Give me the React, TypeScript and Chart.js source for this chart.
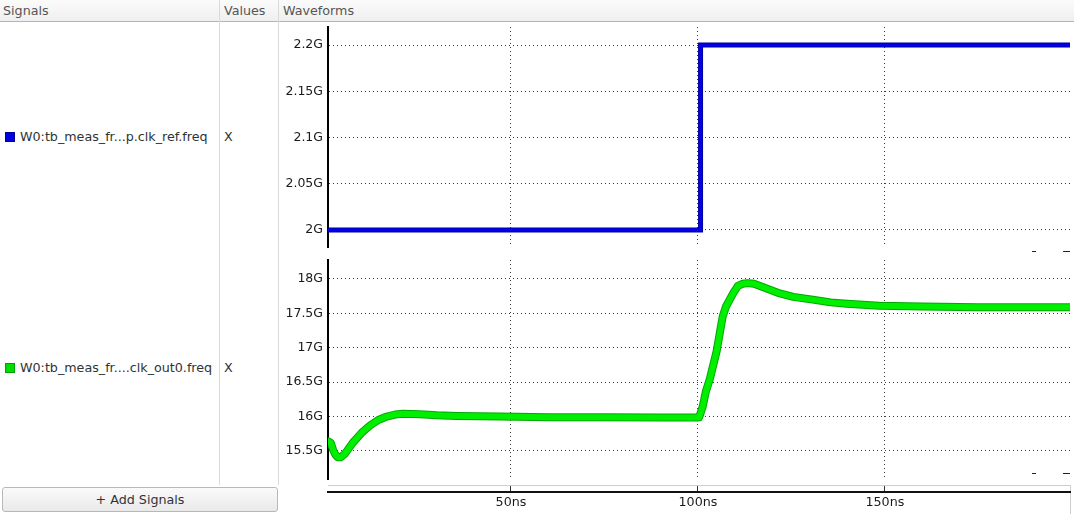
import React, { useEffect, useRef } from 'react';
import { Chart, registerables } from 'chart.js';

Chart.register(...registerables);

// ---- data (time in ns, frequency in GHz) ----
const refTimes = [1.1, 100.7, 100.7, 199.5];
const refValues = [2.0, 2.0, 2.2, 2.2];

const outTimes = [
  1.1, 1.8, 2.4, 3.0, 3.7, 4.5, 5.6, 7.7, 10, 12.3,
  14.5, 16.8, 19, 21.1, 25.6, 30.2, 35.5, 47, 60, 75,
  90, 100.3, 100.7, 101.3, 102.1, 103.2, 104.1, 105, 105.8, 106.6,
  107.5, 108.5, 109.5, 110.7, 112, 113.3, 115, 117.5, 121.9, 125.5,
  130.7, 135.5, 139.8, 148.5, 160, 175, 199.5,
];
const outValues = [
  15.64, 15.62, 15.52, 15.45, 15.41, 15.41, 15.46, 15.62, 15.76, 15.87,
  15.95, 16.0, 16.03, 16.04, 16.035, 16.02, 16.01, 16.0, 15.99, 15.99,
  15.985, 15.985, 16.05, 16.15, 16.36, 16.55, 16.75, 16.95, 17.2, 17.45,
  17.6, 17.7, 17.8, 17.9, 17.93, 17.94, 17.93, 17.88, 17.79, 17.74,
  17.7, 17.66, 17.64, 17.61, 17.6, 17.59, 17.59,
];

const timeTicks = [50, 100, 150];
const refTicks = [2.0, 2.05, 2.1, 2.15, 2.2];
const outTicks = [15.5, 16, 16.5, 17, 17.5, 18];

const X_MIN = 1.07;
const X_MAX = 199.5;
const REF_MIN = 1.9816;
const REF_MAX = 2.2195;
const OUT_MIN = 15.078;
const OUT_MAX = 18.276;

const FONT = "'DejaVu Sans', 'Liberation Sans', sans-serif";
const UI_SIZE = 12.7;

const toPoints = (xs: number[], ys: number[]) => xs.map((x, i) => ({ x, y: ys[i] }));

function paneOptions(yMin: number, yMax: number, yTicks: number[], padTop: number, padBottom: number): any {
  return {
    responsive: false,
    maintainAspectRatio: false,
    animation: false,
    events: [],
    layout: { padding: { top: padTop, bottom: padBottom, left: 0, right: 4 } },
    plugins: { legend: { display: false }, tooltip: { enabled: false } },
    scales: {
      x: {
        type: 'linear',
        min: X_MIN,
        max: X_MAX,
        z: 1,
        afterBuildTicks: (s: any) => { s.ticks = timeTicks.map((v) => ({ value: v })); },
        afterFit: (s: any) => { s.height = 0; s.paddingLeft = 0; s.paddingRight = 0; },
        ticks: { display: false },
        grid: { color: '#3a3a3a', lineWidth: 1, drawTicks: false },
        border: { display: false, dash: [1, 3] },
      },
      y: {
        type: 'linear',
        min: yMin,
        max: yMax,
        z: 1,
        afterBuildTicks: (s: any) => { s.ticks = yTicks.map((v) => ({ value: v })); },
        afterFit: (s: any) => { s.width = 49; s.paddingTop = 0; s.paddingBottom = 0; },
        ticks: {
          padding: 5,
          color: '#1a1a1a',
          font: { family: FONT, size: 12.5 },
          callback: (v: any) => `${v}G`,
        },
        grid: { color: '#3a3a3a', lineWidth: 1, drawTicks: false },
        border: { display: true, color: '#000', width: 2, dash: [1, 3] },
      },
    },
  };
}

export default function App() {
  const topRef = useRef<HTMLCanvasElement>(null);
  const botRef = useRef<HTMLCanvasElement>(null);
  const axisRef = useRef<HTMLCanvasElement>(null);

  useEffect(() => {
    Chart.defaults.font.family = FONT;
    const refPts = toPoints(refTimes, refValues);
    const outPts = toPoints(outTimes, outValues);

    // dataset 0 is painted last (on top)
    const top = new Chart(topRef.current!, {
      type: 'line',
      data: {
        datasets: [
          { data: refPts, borderColor: '#0000ee', borderWidth: 3, pointRadius: 0, tension: 0, fill: false },
          { data: refPts, borderColor: '#00009a', borderWidth: 5, pointRadius: 0, tension: 0, fill: false },
        ],
      },
      options: paneOptions(REF_MIN, REF_MAX, refTicks, 5, 5),
    });

    const bot = new Chart(botRef.current!, {
      type: 'line',
      data: {
        datasets: [
          { data: outPts, borderColor: '#00ee00', borderWidth: 6, pointRadius: 0, tension: 0, fill: false, borderJoinStyle: 'round', borderCapStyle: 'round' },
          { data: outPts, borderColor: '#00a800', borderWidth: 8, pointRadius: 0, tension: 0, fill: false, borderJoinStyle: 'round', borderCapStyle: 'round' },
        ],
      },
      options: paneOptions(OUT_MIN, OUT_MAX, outTicks, 8, 0),
    });

    const axis = new Chart(axisRef.current!, {
      type: 'line',
      data: { datasets: [] },
      options: {
        responsive: false,
        maintainAspectRatio: false,
        animation: false,
        events: [],
        layout: { padding: { top: 6, bottom: 0, left: 49, right: 4 } },
        plugins: { legend: { display: false }, tooltip: { enabled: false } },
        scales: {
          x: {
            type: 'linear',
            min: X_MIN,
            max: X_MAX,
            afterBuildTicks: (s: any) => { s.ticks = timeTicks.map((v) => ({ value: v })); },
            afterFit: (s: any) => { s.height = 22; s.paddingLeft = 0; s.paddingRight = 0; },
            ticks: {
              padding: 3,
              color: '#1a1a1a',
              font: { family: FONT, size: 12.7 },
              maxRotation: 0,
              callback: (v: any) => `${v}ns`,
            },
            grid: { color: '#333', lineWidth: 1, drawTicks: false, drawOnChartArea: true },
            border: { display: true, color: '#111', width: 2 },
          },
          y: { display: false, min: 0, max: 1 },
        },
      } as any,
    });

    return () => {
      top.destroy();
      bot.destroy();
      axis.destroy();
    };
  }, []);

  const abs = (s: React.CSSProperties): React.CSSProperties => ({ position: 'absolute', ...s });
  const txt: React.CSSProperties = { fontFamily: FONT, fontSize: UI_SIZE, color: '#2e3436', whiteSpace: 'nowrap' };

  return (
    <div style={{ position: 'fixed', left: 0, top: 0, width: 1074, height: 514, background: '#fff', overflow: 'hidden', ...txt }}>
      {/* header */}
      <div style={abs({ left: 0, top: 0, width: 1074, height: 21, background: 'linear-gradient(#fbfbfb, #efefef)', borderBottom: '1px solid #b4b4b4' })} />
      <div style={abs({ left: 3, top: 0, lineHeight: '22px', color: '#555' })}>Signals</div>
      <div style={abs({ left: 224, top: 0, lineHeight: '22px', color: '#555' })}>Values</div>
      <div style={abs({ left: 283, top: 0, lineHeight: '22px', color: '#555' })}>Waveforms</div>
      <div style={abs({ left: 219, top: 0, width: 1, height: 485, background: '#dadada' })} />
      <div style={abs({ left: 278, top: 0, width: 1, height: 485, background: '#dadada' })} />

      {/* signal rows */}
      <div style={abs({ left: 5, top: 132, width: 8, height: 8, background: '#0000dd', border: '1px solid #00009a' })} />
      <div style={abs({ left: 20, top: 128, lineHeight: '17px' })}>W0:tb_meas_fr...p.clk_ref.freq</div>
      <div style={abs({ left: 224, top: 128, lineHeight: '17px' })}>X</div>

      <div style={abs({ left: 5, top: 363, width: 8, height: 8, background: '#00dd00', border: '1px solid #00a000' })} />
      <div style={abs({ left: 20, top: 359, lineHeight: '17px' })}>W0:tb_meas_fr....clk_out0.freq</div>
      <div style={abs({ left: 224, top: 359, lineHeight: '17px' })}>X</div>

      {/* add signals button */}
      <div style={abs({ left: 2, top: 487, width: 274, height: 23, border: '1px solid #b8b8b8', borderRadius: 3, background: 'linear-gradient(#fafafa, #e9e9e9)', textAlign: 'center', lineHeight: '23px', color: '#333' })}>+ Add Signals</div>

      {/* waveform area */}
      <div style={abs({ left: 328, top: 485, width: 742, height: 40, borderTop: '1px solid #cfcfcf', borderRight: '1px solid #cfcfcf' })} />
      <canvas ref={topRef} width={795} height={230} style={abs({ left: 279, top: 22, width: 795, height: 230 })} />
      <canvas ref={botRef} width={795} height={228} style={abs({ left: 279, top: 252, width: 795, height: 228 })} />
      <canvas ref={axisRef} width={795} height={34} style={abs({ left: 279, top: 480, width: 795, height: 34 })} />

      {/* small markers at the right edge */}
      <div style={abs({ left: 1032, top: 251, width: 4, height: 1, background: '#222' })} />
      <div style={abs({ left: 1063, top: 251, width: 7, height: 1, background: '#222' })} />
      <div style={abs({ left: 1032, top: 473, width: 4, height: 1, background: '#222' })} />
      <div style={abs({ left: 1063, top: 473, width: 7, height: 1, background: '#222' })} />
    </div>
  );
}
